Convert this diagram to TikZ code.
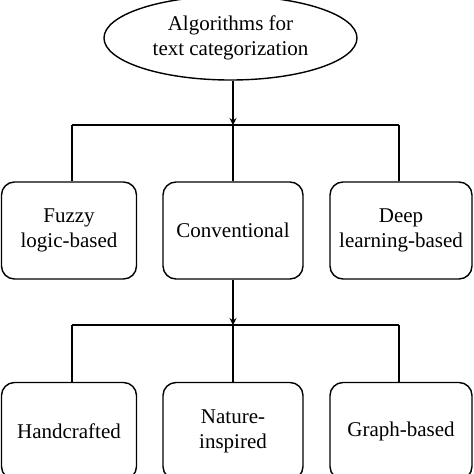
\documentclass[tikz,border=0pt]{standalone}
\usepackage{fontspec}
\setmainfont{Liberation Serif}
\usetikzlibrary{arrows.meta,shapes.geometric}
\begin{document}
\begin{tikzpicture}[x=1pt,y=-1pt,
  line width=1.4pt,
  catbox/.style={draw, rounded corners=13pt, minimum width=135pt, minimum height=97pt, align=center, font=\fontsize{21}{25}\selectfont, inner sep=0pt},
  rootnode/.style={draw, ellipse, minimum width=253pt, minimum height=84pt, align=center, font=\fontsize{21}{24.5}\selectfont, inner sep=0pt},
  conn/.style={line width=1.4pt},
  arr/.style={conn, -{Stealth[length=7pt,width=7pt,inset=2.5pt]}}]
\useasboundingbox (0,0) rectangle (474,474);
\node[rootnode] (root) at (230.5,38) {Algorithms for\\text categorization};
\coordinate (j1) at (233,125);
\coordinate (j1l) at (72,125);
\coordinate (j1r) at (399,125);
\node[catbox] (fuzzy) at (69,230.5) {Fuzzy\\logic-based};
\node[catbox, minimum width=140pt] (conv) at (233,230.5) {Conventional};
\node[catbox, minimum width=142pt] (deep) at (401,230.5) {Deep\\learning-based};
\coordinate (j2) at (233,325);
\coordinate (j2l) at (72,325);
\coordinate (j2r) at (399,325);
\node[catbox] (hand) at (69,431) {Handcrafted};
\node[catbox, minimum width=140pt] (nat) at (233,431) {Nature-\\inspired};
\node[catbox, minimum width=142pt] (graph) at (401,431) {Graph-based};
\draw[arr] (root.south -| j1) -- (j1);
\draw[conn] (j1l) -- (j1r);
\draw[conn] (j1l) -- (j1l |- fuzzy.north);
\draw[conn] (j1) -- (conv.north);
\draw[conn] (j1r) -- (j1r |- deep.north);
\draw[arr] (conv.south) -- (j2);
\draw[conn] (j2l) -- (j2r);
\draw[conn] (j2l) -- (j2l |- hand.north);
\draw[conn] (j2) -- (nat.north);
\draw[conn] (j2r) -- (j2r |- graph.north);
\end{tikzpicture}
\end{document}
